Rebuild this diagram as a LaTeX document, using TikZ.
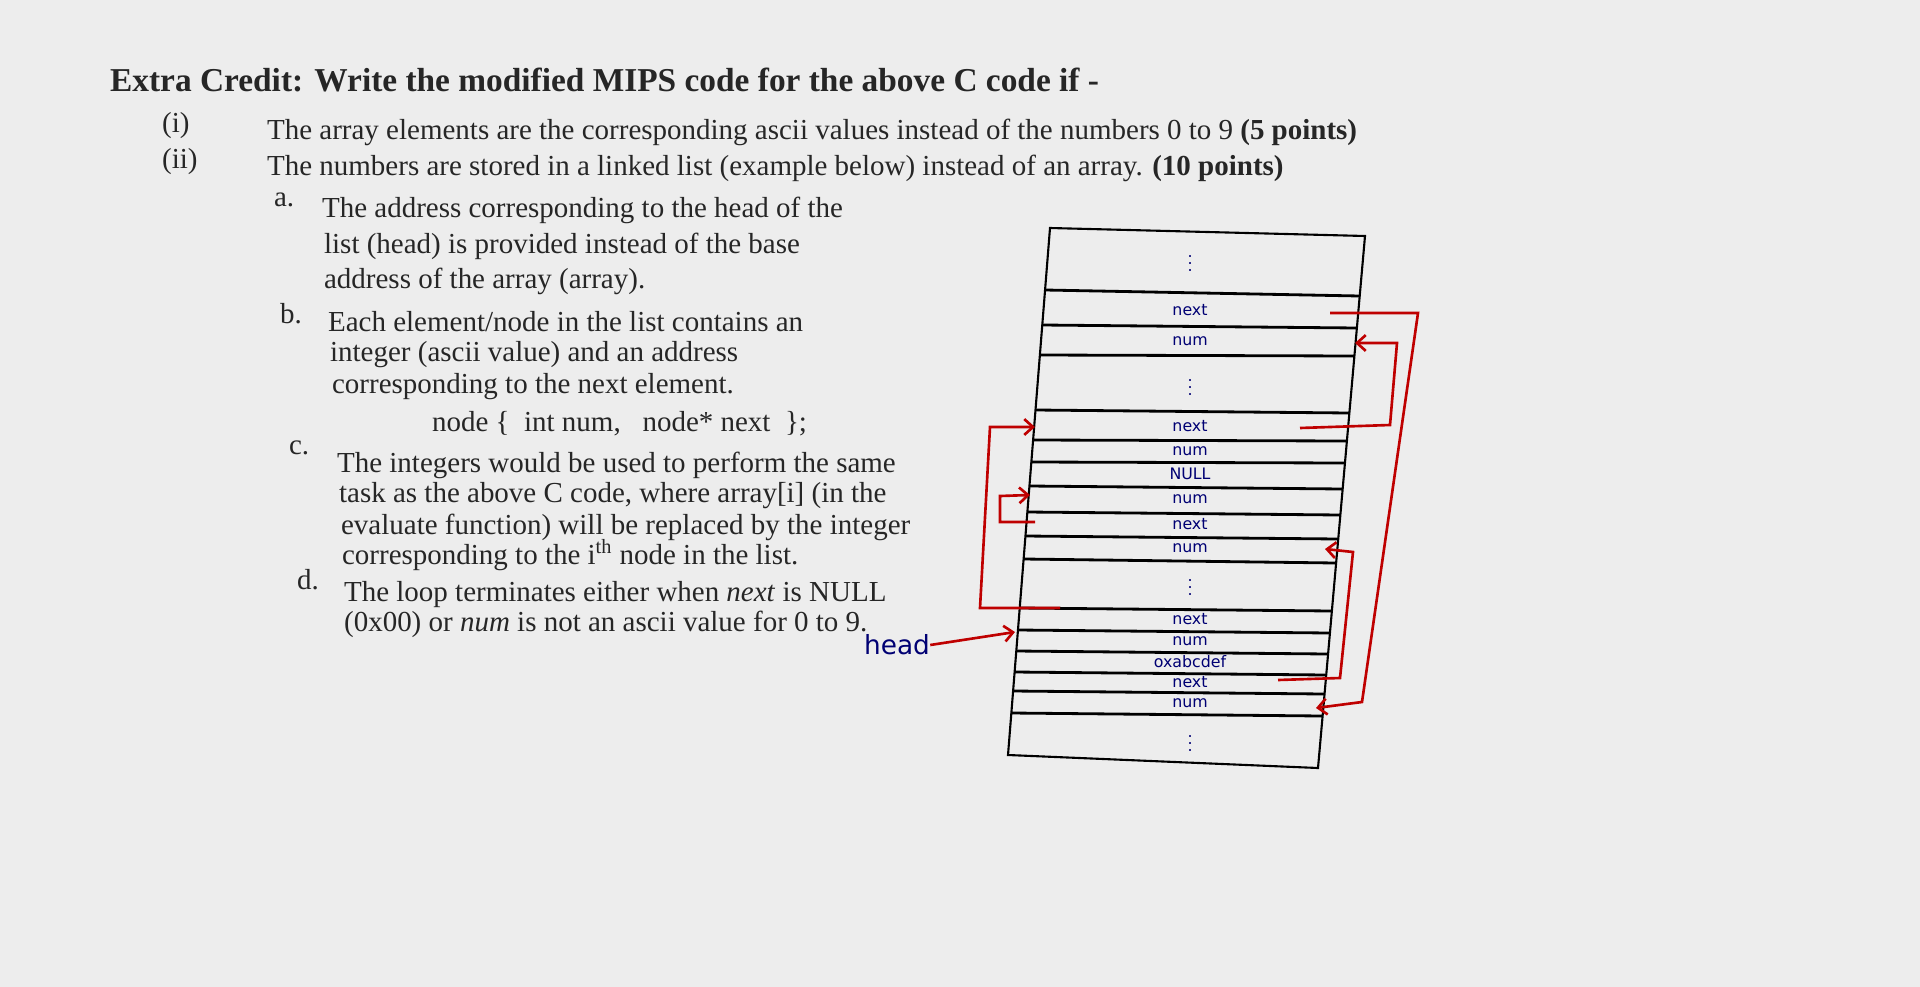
\documentclass[tikz,border=0pt]{standalone}
\usepackage{fontspec}
\setmainfont{Liberation Serif}
\newfontfamily\handfont{DejaVu Sans}
\usetikzlibrary{arrows.meta}

\tikzset{
    body/.style={anchor=west, font=\fontsize{16.5}{18}\selectfont, text=black!85, inner sep=1pt},
    hand/.style={font=\handfont\fontsize{9}{10}\selectfont, text=blue!45!black, inner sep=0pt},
    row/.style={line width=1.6pt},
    redline/.style={draw=red!75!black, line width=1.5pt, -{Straight Barb[length=5pt,width=9pt]}},
}

\begin{document}
\begin{tikzpicture}[x=0.02cm, y=-0.02cm]
\fill[black!7] (0,0) rectangle (1920,987);
\useasboundingbox (0,0) rectangle (1920,987);

% question text
\node[body, font=\bfseries\fontsize{19}{21}\selectfont] (title) at (108,80) {Extra Credit: Write the modified MIPS code for the above C code if -};
\node[body] (p1) at (160,126) {(i)};
\node[body] (t1) at (265,132) {The array elements are the corresponding ascii values instead of the numbers 0 to 9 \textbf{(5 points)}};
\node[body] (p2) at (160,162) {(ii)};
\node[body] (t2) at (265,168) {The numbers are stored in a linked list (example below) instead of an array. \textbf{(10 points)}};
\node[body] (la) at (272,200) {a.};
\node[body] (a1) at (320,210) {The address corresponding to the head of the};
\node[body] (a2) at (322,246) {list (head) is provided instead of the base};
\node[body] (a3) at (322,281) {address of the array (array).};
\node[body] (lb) at (278,314) {b.};
\node[body] (b1) at (326,322) {Each element/node in the list contains an};
\node[body] (b2) at (328,355) {integer (ascii value) and an address};
\node[body] (b3) at (330,387) {corresponding to the next element.};
\node[body] (b4) at (430,424) {node \{ \ int num, \ \ node* next \ \};};
\node[body] (lc) at (287,448) {c.};
\node[body] (c1) at (335,465) {The integers would be used to perform the same};
\node[body] (c2) at (337,496) {task as the above C code, where array[i] (in the};
\node[body] (c3) at (339,527) {evaluate function) will be replaced by the integer};
\node[body] (c4) at (340,555) {corresponding to the i\textsuperscript{th} node in the list.};
\node[body] (ld) at (295,580) {d.};
\node[body] (d1) at (342,595) {The loop terminates either when \emph{next} is NULL};
\node[body] (d2) at (342,624) {(0x00) or \emph{num} is not an ascii value for 0 to 9.};

% memory column
\draw[line width=1.2pt] (1050,228) -- (1365,236) -- (1318,768) -- (1008,755) -- cycle;
\foreach \yl/\yr in {290/296,325/328,355/356,410/413,440/441,462/463,486/489,512/515,
                     536/539,559/563,608/611,630/633,651/654,672/675,691/694,713/716}
    \draw[row] ({1050-(\yl-228)*0.08},\yl) -- ({1365-(\yr-236)*0.09},\yr);

% cell contents
\foreach \y/\lbl in {258/$\vdots$,382/$\vdots$,582/$\vdots$,738/$\vdots$,
                     310/next,341/num,426/next,451/num,474/NULL,499/num,524/next,548/num,
                     619/next,641/num,662/oxabcdef,682/next,703/num}
    \node[hand] at (1190,\y) {\lbl};

% head pointer
\node[hand, font=\handfont\fontsize{15}{16}\selectfont] (head) at (897,645) {head};
\coordinate (hd) at (1015,632);
\draw[redline] (head.east) -- (hd);

% links
\draw[redline] (1330,313) -- (1418,313) -- (1362,702) -- (1316,708);
\draw[redline] (1300,428) -- (1390,425) -- (1397,343) -- (1355,343);
\draw[redline] (1278,680) -- (1340,678) -- (1353,552) -- (1325,549);
\draw[redline] (1035,522) -- (1000,522) -- (1000,496) -- (1030,495);
\draw[redline] (1060,608) -- (980,608) -- (990,427) -- (1035,427);
\end{tikzpicture}
\end{document}
